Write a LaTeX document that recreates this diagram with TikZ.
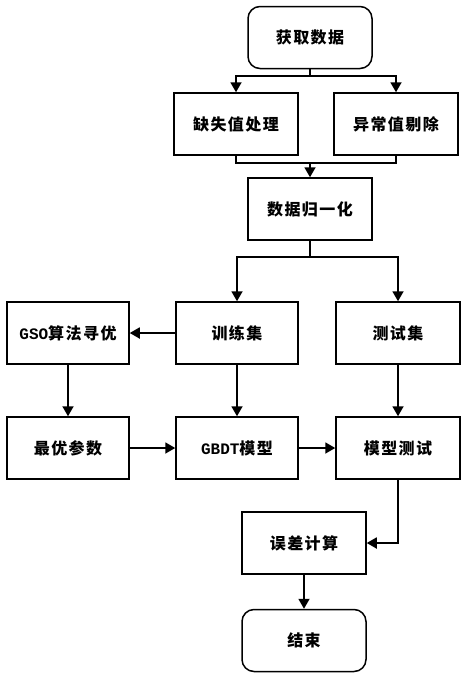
\documentclass[tikz,border=0pt]{standalone}
\usepackage{fontspec}
\newfontfamily\cjk{Noto Sans CJK SC}[LetterSpace=9]
\newfontfamily\lat{Liberation Mono}
\usepackage{tikz}
\usetikzlibrary{arrows.meta}

\begin{document}
\begin{tikzpicture}[x=1pt,y=-1pt,
    box/.style={draw, line width=1.5pt, minimum width=124pt, minimum height=62pt, inner sep=0pt,
        font=\cjk\bfseries\fontsize{16pt}{19pt}\selectfont},
    rbox/.style={box, rounded corners=12pt},
    arr/.style={line width=1.8pt, -{Triangle[length=10pt,width=11pt]}},
    ln/.style={line width=1.8pt}]
        \useasboundingbox (0,0) rectangle (474,686);

        \node[rbox] (start) at (310,37.5) {获取数据};

        \node[box] (miss) at (236,124) {缺失值处理};
        \node[box] (outl) at (396,124) {异常值剔除};
        \node[box] (norm) at (310,209) {数据归一化};

        \node[box, minimum width=122pt] (gso) at (68,333) {{\lat\bfseries GSO}算法寻优};
        \node[box, minimum width=122pt] (train) at (237,333) {训练集};
        \node[box] (test) at (398,333) {测试集};

        \node[box, minimum width=122pt] (opt) at (68,448) {最优参数};
        \node[box, minimum width=122pt] (gbdt) at (237,448) {{\lat\bfseries GBDT}模型};
        \node[box] (mtest) at (398,448) {模型测试};

        \node[box] (err) at (304,543) {误差计算};
        \node[rbox] (end) at (304,640.5) {结束};

        % split and merge points
        \coordinate (j1) at (310,76);
        \coordinate (j2) at (310,163);
        \coordinate (j3) at (310,257);

        \draw[ln] (start.south) -- (j1);
        \draw[arr] (j1) -| (miss.north);
        \draw[arr] (j1) -| (outl.north);

        \draw[ln] (miss.south) |- (j2) -| (outl.south);
        \draw[arr] (j2) -- (norm.north);

        \draw[ln] (norm.south) -- (j3);
        \draw[arr] (j3) -| (train.north);
        \draw[arr] (j3) -| (test.north);

        \draw[arr] (train) -- (gso);
        \draw[arr] (gso) -- (opt);
        \draw[arr] (train) -- (gbdt);
        \draw[arr] (test) -- (mtest);
        \draw[arr] (opt) -- (gbdt);
        \draw[arr] (gbdt) -- (mtest);

        \draw[arr] (mtest.south) |- (err.east);
        \draw[arr] (err) -- (end);
    \end{tikzpicture}
\end{document}
